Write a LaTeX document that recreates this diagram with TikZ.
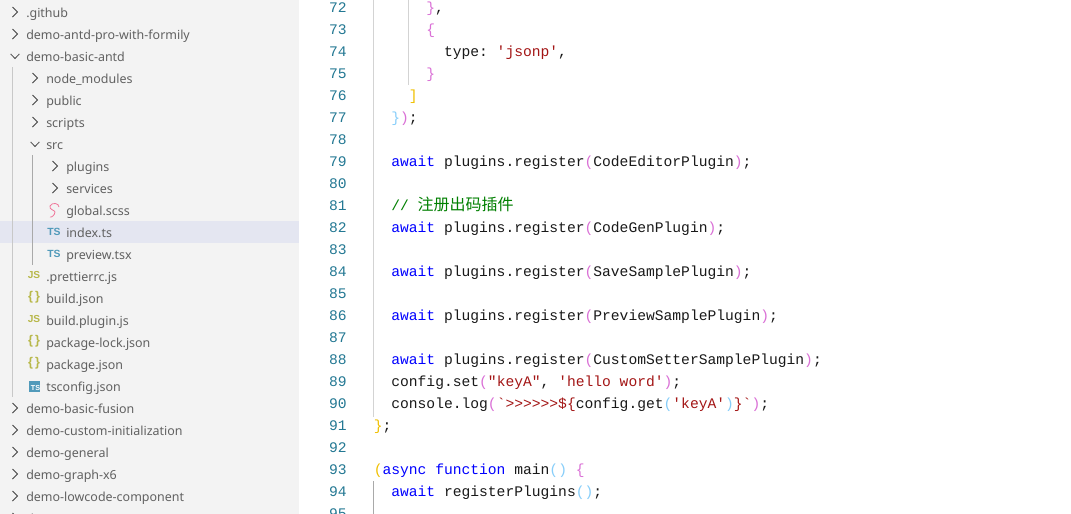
\documentclass[tikz,border=0pt]{standalone}
\usepackage{fontspec}
\setmainfont{Noto Sans}
\newfontfamily\codefont{Liberation Mono}
\newfontfamily\cjk{Noto Sans CJK SC}
\newfontfamily\iconfont{Liberation Sans}

\definecolor{sidebg}{HTML}{F3F3F3}
\definecolor{sidesel}{HTML}{E4E6F1}
\definecolor{sidetext}{HTML}{616161}
\definecolor{chevron}{HTML}{424242}
\definecolor{guide}{HTML}{D3D3D3}
\definecolor{guideact}{HTML}{A9A9A9}
\definecolor{numcol}{HTML}{237893}
\definecolor{tsblue}{HTML}{519ABA}
\definecolor{jsyellow}{HTML}{B8B84A}
\definecolor{scsspink}{HTML}{F0779A}
\definecolor{kwblue}{HTML}{0000FF}
\definecolor{strred}{HTML}{A31515}
\definecolor{cmtgreen}{HTML}{008000}
\definecolor{brgold}{HTML}{F0C000}
\definecolor{brpink}{HTML}{DA70D6}
\definecolor{brsky}{HTML}{87CEFA}

\newcommand{\kw}[1]{\textcolor{kwblue}{#1}}
\newcommand{\st}[1]{\textcolor{strred}{#1}}
\newcommand{\bg}[1]{\textcolor{brgold}{#1}}
\newcommand{\bp}[1]{\textcolor{brpink}{#1}}
\newcommand{\bs}[1]{\textcolor{brsky}{#1}}

\tikzset{
  rowlabel/.style={anchor=base west, inner sep=0pt, text=sidetext,
    font=\fontsize{9.35}{11}\selectfont},
  codetext/.style={anchor=base west, inner sep=0pt, text=black!90,
    font=\codefont\frenchspacing\fontsize{10.98}{13}\selectfont},
  linenum/.style={anchor=base east, inner sep=0pt, text=numcol,
    font=\codefont\fontsize{10.98}{13}\selectfont},
  arrowline/.style={draw=chevron, line width=0.6pt},
  guideline/.style={draw=guide, line width=0.75pt},
  iconts/.style={inner sep=0pt, text=tsblue, font=\iconfont\bfseries\fontsize{7.8}{8}\selectfont},
  iconjs/.style={inner sep=0pt, text=jsyellow, font=\iconfont\bfseries\fontsize{7.6}{8}\selectfont},
  iconjson/.style={inner sep=0pt, text=jsyellow, font=\iconfont\bfseries\fontsize{9.5}{10}\selectfont},
}

% folder arrows: x of the arrow, row
\newcommand{\closedarrow}[2]{\draw[arrowline] ({#1-2.5},{#2*22+7}) -- ({#1+2.5},{#2*22+12}) -- ({#1-2.5},{#2*22+17});}
\newcommand{\openarrow}[2]{\draw[arrowline] ({#1-4.3},{#2*22+10}) -- ({#1},{#2*22+14.5}) -- ({#1+4.3},{#2*22+10});}
% code line: number, column, text
\newcommand{\codeline}[3]{\node[codetext] (code#1) at ({373.5+8.78*#2},{#1*22-1571.4}) {#3};}

\begin{document}
\begin{tikzpicture}[x=0.75pt,y=-0.75pt]
 \useasboundingbox (0,0) rectangle (1071,514);
 \clip (0,0) rectangle (1071,514);
 \fill[white] (0,0) rectangle (1071,514);

 % sidebar
 \fill[sidebg] (0,0) rectangle (299,514);
 \fill[sidesel] (0,221) rectangle (299,243);
 \draw[guideline, draw=guide!95!black] (12.5,67) -- (12.5,397);
 \draw[guideline, draw=guideact] (32.5,155) -- (32.5,265);

 \foreach \rownum/\rowx/\rowtext in {
   0/26/.github, 1/26/demo-antd-pro-with-formily, 2/26/demo-basic-antd,
   3/46/node\_modules, 4/46/public, 5/46/scripts, 6/46/src,
   7/66/plugins, 8/66/services, 9/66/global.scss, 10/66/index.ts, 11/66/preview.tsx,
   12/46/.prettierrc.js, 13/46/build.json, 14/46/build.plugin.js,
   15/46/package-lock.json, 16/46/package.json, 17/46/tsconfig.json,
   18/26/demo-basic-fusion, 19/26/demo-custom-initialization, 20/26/demo-general,
   21/26/demo-graph-x6, 22/26/demo-lowcode-component, 23/26/demo}
   \node[rowlabel] (row\rownum) at (\rowx,{\rownum*22+17}) {\rowtext};

 \foreach \ax/\arow in {15/0, 15/1, 35/3, 35/4, 35/5, 55/7, 55/8, 15/18, 15/19, 15/20, 15/21, 15/22, 15/23}
   {\closedarrow{\ax}{\arow}}
 \openarrow{15}{2}
 \openarrow{35}{6}

 % file icons
 \draw[scsspink, line width=0.6pt] (59,207) .. controls (59,203) and (52,202) .. (50,206) .. controls (49,210) and (55,210) .. (55,212) .. controls (55,215) and (51,218) .. (50,217);
 \node[iconts] (iconindex) at (54,231.5) {TS};
 \node[iconts] (iconpreview) at (54,253.5) {TS};
 \node[iconjs] (iconprettier) at (34,275.5) {JS};
 \node[iconjson] (iconbuild) at (34,297.5) {\{\,\}};
 \node[iconjs] (iconplugin) at (34,319.5) {JS};
 \node[iconjson] (iconlock) at (34,341.5) {\{\,\}};
 \node[iconjson] (iconpackage) at (34,363.5) {\{\,\}};
 \node[fill=tsblue, minimum size=8.6pt, inner sep=0pt] (icontsconfig) at (34.5,386.5) {};
 \node[text=white, inner sep=0pt, font=\iconfont\bfseries\fontsize{5.4}{6}\selectfont] at ([xshift=0.8pt,yshift=-1pt]icontsconfig.center) {TS};

 % editor guides
 \draw[guideline] (373.5,0) -- (373.5,417);
 \draw[guideline, draw=guideact] (373.5,481) -- (373.5,514);
 \draw[guideline] (408.5,0) -- (408.5,85);

 \foreach \n in {72,...,95}
   \node[linenum] (num\n) at (347,{\n*22-1571.4}) {\n};

 \codeline{72}{6}{\bp{\}},}
 \codeline{73}{6}{\bp{\{}}
 \codeline{74}{8}{type: \st{'jsonp'},}
 \codeline{75}{6}{\bp{\}}}
 \codeline{76}{4}{\bg{]}}
 \codeline{77}{2}{\bs{\}}\bp{)};}
 \codeline{79}{2}{\kw{await} plugins.register\bp{(}CodeEditorPlugin\bp{)};}
 \node[anchor=base west, inner sep=0pt, font=\frenchspacing\codefont\fontsize{10.98}{13}\selectfont, text=cmtgreen] (code81) at ({373.5+8.78*2},210.6) {// {\cjk\fontsize{12}{13}\selectfont 注册出码插件}};
 \codeline{82}{2}{\kw{await} plugins.register\bp{(}CodeGenPlugin\bp{)};}
 \codeline{84}{2}{\kw{await} plugins.register\bp{(}SaveSamplePlugin\bp{)};}
 \codeline{86}{2}{\kw{await} plugins.register\bp{(}PreviewSamplePlugin\bp{)};}
 \codeline{88}{2}{\kw{await} plugins.register\bp{(}CustomSetterSamplePlugin\bp{)};}
 \codeline{89}{2}{config.set\bp{(}\st{"keyA"}, \st{'hello word'}\bp{)};}
 \codeline{90}{2}{console.log\bp{(}\st{`>>>>>>\$\{}config.get\bs{(}\st{'keyA'}\bs{)}\st{\}`}\bp{)};}
 \codeline{91}{0}{\bg{\}};}
 \codeline{93}{0}{\bg{(}\kw{async function} main\bs{()} \bp{\{}}
 \codeline{94}{2}{\kw{await} registerPlugins\bs{()};}
\end{tikzpicture}
\end{document}
